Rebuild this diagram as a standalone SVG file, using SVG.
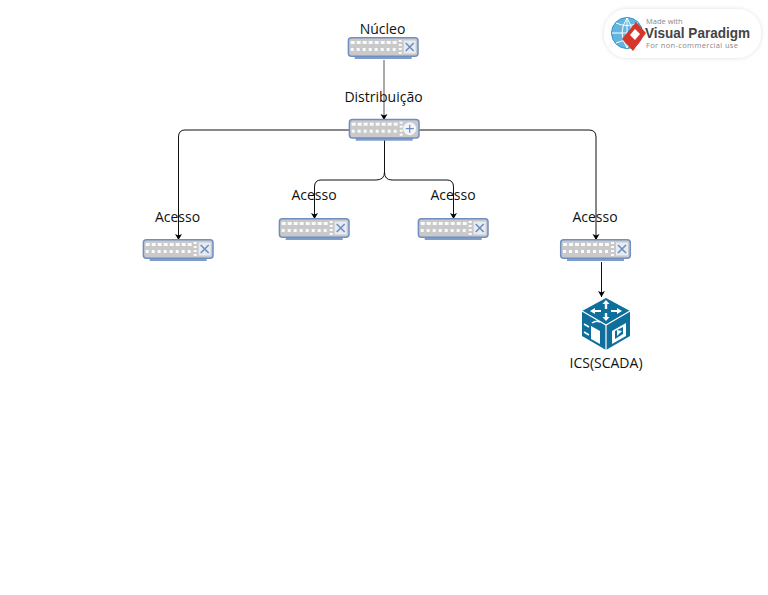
<svg xmlns="http://www.w3.org/2000/svg" width="768" height="595" viewBox="0 0 768 595">
<style>
text{font-family:"Open Sans","Liberation Sans",sans-serif;font-size:14px;fill:#111;text-anchor:middle}
.c{fill:none;stroke:#111;stroke-width:1}
.d{fill:#fff;opacity:.9}
.x{stroke:#6c8ebf;stroke-width:1.6;fill:none}
.l{text-anchor:start;font-size:7.500px;fill:#888}
</style>
<defs>
<marker id="a" markerUnits="userSpaceOnUse" markerWidth="8" markerHeight="8" refX="6" refY="3.500" orient="auto"><path d="M0 0L6 3.500L0 7L1.500 3.500Z" fill="#000"/></marker>
<filter id="s" x="-10%" y="-20%" width="120%" height="140%"><feDropShadow dx="0" dy="0" stdDeviation="2" flood-color="#000" flood-opacity=".14"/></filter>
<g id="dots"><rect class="d" x="3" y="4" width="4" height="3"/><rect class="d" x="9" y="4" width="4" height="3"/><rect class="d" x="15" y="4" width="4" height="3"/><rect class="d" x="21" y="4" width="4" height="3"/><rect class="d" x="27" y="4" width="4" height="3"/><rect class="d" x="33" y="4" width="4" height="3"/><rect class="d" x="39" y="4" width="4" height="3"/><rect class="d" x="45" y="4" width="4" height="3"/><rect class="d" x="3" y="11" width="3" height="3"/><rect class="d" x="9" y="11" width="3" height="3"/><rect class="d" x="15" y="11" width="3" height="3"/><rect class="d" x="21" y="11" width="3" height="3"/><rect class="d" x="27" y="11" width="3" height="3"/><rect class="d" x="33" y="11" width="3" height="3"/><rect class="d" x="39" y="11" width="3" height="3"/><rect class="d" x="45" y="11" width="3" height="3"/><rect class="d" x="51" y="3" width="3" height="2"/><rect class="d" x="51" y="7" width="3" height="2"/><rect class="d" x="51" y="11" width="3" height="2"/><rect class="d" x="51" y="15" width="3" height="2"/></g>
<g id="sw"><rect x="7" y="18" width="57" height="4" fill="#7f9ccb"/><rect x="0.700" y="0.700" width="69.600" height="18.600" rx="3" fill="#c9c9c9" stroke="#6f8fc4" stroke-width="1.500"/><use href="#dots"/><rect x="56" y="3.500" width="12" height="13" fill="#e8ebf2"/><path class="x" d="M58 6L66 14M66 6L58 14"/></g>
<g id="sw2"><rect x="7" y="18" width="57" height="4" fill="#7f9ccb"/><rect x="0.700" y="0.700" width="69.600" height="18.600" rx="3" fill="#c9c9c9" stroke="#6f8fc4" stroke-width="1.500"/><use href="#dots"/><circle cx="61" cy="10" r="6.500" fill="#f4f5f9"/><path d="M57 10H65M61 6V14" stroke="#6c8ebf" stroke-width="1.200"/></g>
</defs>
<g id="connectors">
<path class="c" style="stroke:#555" marker-end="url(#a)" d="M384 60V120"/>
<path class="c" marker-end="url(#a)" d="M349 130H185Q178.500 130 178.500 137V240"/>
<path class="c" marker-end="url(#a)" d="M419 130H589Q596 130 596 137V240"/>
<path class="c" marker-end="url(#a)" d="M384.500 140V172Q384.500 180 376 180H321Q314.500 180 314.500 187V219"/>
<path class="c" marker-end="url(#a)" d="M384.500 140V172Q384.500 180 392 180H447Q453.500 180 453.500 187V219"/>
<path class="c" marker-end="url(#a)" d="M601.500 262V297"/>
</g>
<g id="nucleo"><use href="#sw" x="347.700" y="37"/><text x="382.500" y="33.500">Núcleo</text></g>
<g id="distribuicao"><use href="#sw2" x="348.700" y="118.700"/><text x="383.500" y="102">Distribuição</text></g>
<g id="acesso1"><use href="#sw" x="142.700" y="239"/><text x="177.500" y="222">Acesso</text></g>
<g id="acesso2"><use href="#sw" x="278.700" y="218"/><text x="314" y="199.500">Acesso</text></g>
<g id="acesso3"><use href="#sw" x="417.700" y="218"/><text x="453" y="199.500">Acesso</text></g>
<g id="acesso4"><use href="#sw" x="560" y="239"/><text x="595" y="222">Acesso</text></g>
<g id="scada">
<path d="M606 298L630 311V336L606 350L582 336V311Z" fill="#0f6f9c"/>
<path d="M582 311L606 325L630 311M606 325V350" fill="none" stroke="#fff" stroke-width="1.200"/>
<path d="M606 300L602.500 304H604.800V309H607.200V304H609.500ZM606 321L602.500 317H604.800V313H607.200V317H609.500ZM590 311L595 308V310H601V312H595V314ZM622 311L617 308V310H611V312H617V314Z" fill="#fff"/>
<path d="M591 326L600 331V344L591 339Z" fill="#fff"/><path d="M584 324L589 327M584 332L589 335M600 322Q596 320 592 323" stroke="#fff" stroke-width="1.500" fill="none"/>
<path d="M612 331L626 323V336L612 344Z" fill="#fff"/><path d="M615 331L623 327V334L615 339Z" fill="#0f6f9c"/><path d="M617 330L622 331L617 336Z" fill="#fff"/>
<text x="606" y="368">ICS(SCADA)</text>
</g>
<g id="logo">
<rect x="604" y="9" width="157" height="49" rx="24" fill="#fff" filter="url(#s)"/>
<circle cx="627" cy="33" r="15.500" fill="#62b5e0" stroke="#3f93c4"/>
<path d="M612 33H642M627 18V48M616 23Q627 28 638 23M616 43Q627 38 638 43M627 18Q617 33 627 48M627 18Q637 33 627 48" stroke="#fff" fill="none"/>
<path d="M636 22L646 33L633 51L622 39Z" fill="#d8352a"/><path d="M635 29L640 34L635 40L630 35Z" fill="#fff"/>
<text class="l" x="646" y="24">Made with</text>
<text x="645" y="38" textLength="105" lengthAdjust="spacingAndGlyphs" style="font-size:14px;font-weight:700;fill:#444;text-anchor:start;font-family:'Liberation Sans',sans-serif">Visual Paradigm</text>
<text class="l" x="646" y="48" textLength="92">For non-commercial use</text>
</g>
</svg>
